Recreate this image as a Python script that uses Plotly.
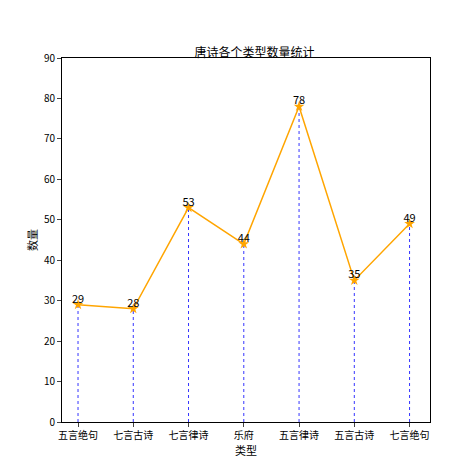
import plotly.graph_objects as go

categories = ["五言绝句", "七言古诗", "七言律诗", "乐府", "五言律诗", "五言古诗", "七言绝句"]
values = [29, 28, 53, 44, 78, 35, 49]
yticks = list(range(0, 91, 10))

font = "Noto Sans CJK SC"
fig = go.Figure()
xs = list(range(len(categories)))
for x, v in zip(xs, values):
    fig.add_trace(go.Scatter(x=[x, x], y=[0, v], mode="lines",
                             line=dict(color="blue", width=0.8, dash="dot"),
                             showlegend=False, hoverinfo="skip"))
fig.add_trace(go.Scatter(x=xs, y=values, mode="lines+markers",
                         line=dict(color="orange", width=1.5),
                         marker=dict(symbol="star", size=8, color="orange"),
                         showlegend=False))
fig.add_trace(go.Scatter(x=xs, y=[v + 1.2 for v in values], mode="text",
                         text=[str(v) for v in values], textposition="middle center",
                         textfont=dict(color="black", size=11, family=font),
                         showlegend=False, hoverinfo="skip"))
fig.update_layout(
    width=474, height=474, paper_bgcolor="white", plot_bgcolor="white",
    margin=dict(l=54, r=52, t=50, b=60),
    font=dict(family=font, size=10, color="black"),
    title=dict(text="唐诗各个类型数量统计", x=0.52, xanchor="center", y=0.905, yanchor="middle",
               font=dict(size=12)),
)
fig.update_xaxes(range=[-0.29, 6.37], tickvals=xs, ticktext=categories,
                 showline=True, mirror=True, linecolor="black", linewidth=1,
                 ticks="outside", ticklen=4, showgrid=False, zeroline=False,
                 title=dict(text="类型", standoff=2, font=dict(size=11)))
fig.update_yaxes(range=[0, 90], tickvals=yticks,
                 showline=True, mirror=True, linecolor="black", linewidth=1,
                 ticks="outside", ticklen=4, showgrid=False, zeroline=False,
                 title=dict(text="数量", standoff=4, font=dict(size=11)))
fig.write_html("out.html")
